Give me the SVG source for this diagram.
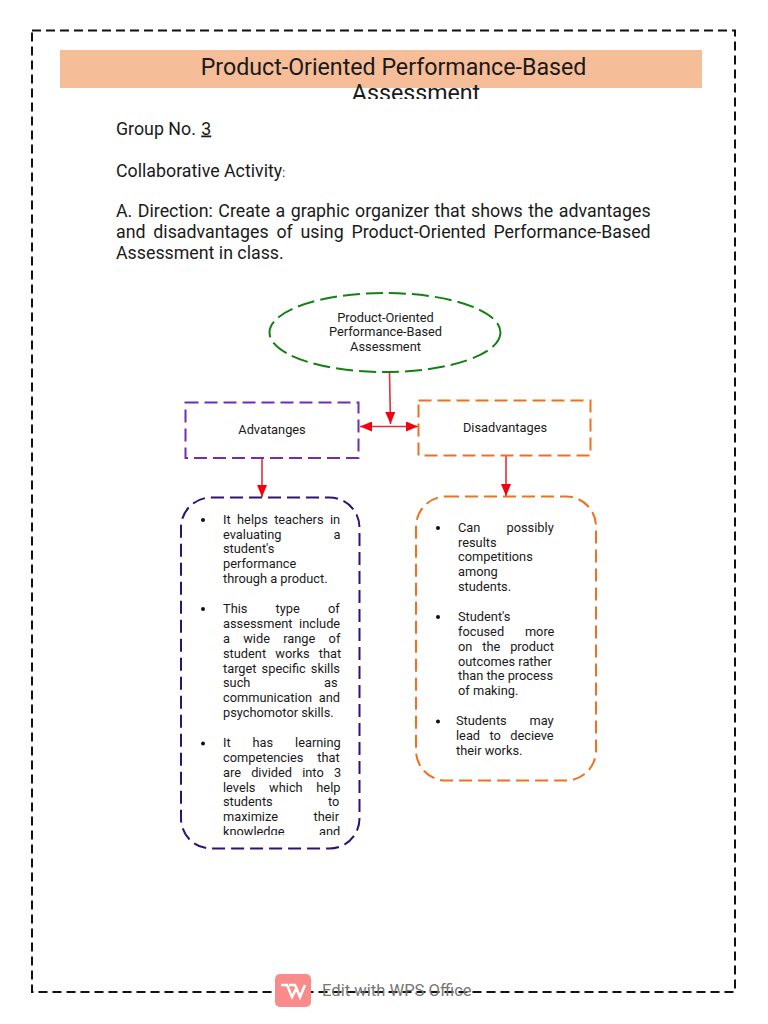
<svg xmlns="http://www.w3.org/2000/svg" width="768" height="1024" viewBox="0 0 768 1024">
<style>
text{font-family:Roboto,"Liberation Sans",sans-serif;fill:#1a1a1a}
.b{font-size:17.8px}
.s{font-size:12.8px}
.m{text-anchor:middle}
.d{fill:none;stroke-width:2;stroke-dasharray:13 6}
.c{fill:none;stroke:#e0303a;stroke-width:1.6}
</style>
<defs>
<clipPath id="t"><rect x="60" y="50" width="642" height="49"/></clipPath>
<clipPath id="k"><rect x="180" y="500" width="180" height="335"/></clipPath>
<marker id="a" viewBox="0 0 12 10" refX="12" refY="5" markerWidth="12" markerHeight="10" markerUnits="userSpaceOnUse" orient="auto-start-reverse"><path d="M0 0L12 5L0 10Z" fill="#f5000f"/></marker>
</defs>
<rect width="768" height="1024" fill="#fff"/>
<rect id="page-border" x="32" y="30.500" width="703" height="961.500" fill="none" stroke="#111" stroke-width="2" stroke-dasharray="9 5"/>
<g id="header">
<rect x="60" y="50" width="642" height="38" fill="#f5bd98"/>
<g clip-path="url(#t)">
<text x="393.500" y="74.500" class="m" font-size="23.200">Product-Oriented Performance-Based</text>
<text x="416" y="100.500" class="m" font-size="23.200">Assessment</text>
</g>
</g>
<g id="intro">
<text x="116" y="134.500" class="b">Group No. <tspan text-decoration="underline" dx="1">3</tspan></text>
<text x="116" y="176.500" class="b">Collaborative Activity<tspan font-size="12">:</tspan></text>
<text x="116" y="216.500" class="b" word-spacing="1.100">A. Direction: Create a graphic organizer that shows the advantages</text>
<text x="116" y="237.500" class="b" word-spacing="3.400">and disadvantages of using Product-Oriented Performance-Based</text>
<text x="116" y="258.500" class="b">Assessment in class.</text>
</g>
<g id="connectors">
<path class="c" d="M389.500 373L390.500 424" marker-end="url(#a)"/>
<path class="c" d="M360 426.500H418" marker-start="url(#a)" marker-end="url(#a)"/>
<path class="c" d="M262 458V497" marker-end="url(#a)"/>
<path class="c" d="M506 456V496" marker-end="url(#a)"/>
</g>
<g id="node-root">
<ellipse cx="385" cy="332.500" rx="115.500" ry="39.500" class="d" stroke="#148014" style="stroke-dasharray:17 6"/>
<text x="385.500" y="322" class="s m">Product-Oriented</text>
<text x="385.500" y="336" class="s m">Performance-Based</text>
<text x="385.500" y="351" class="s m">Assessment</text>
</g>
<g id="node-advantages">
<rect x="185.500" y="402.500" width="173" height="55.500" class="d" stroke="#6f2cb4"/>
<text x="272" y="434" class="s m">Advatanges</text>
</g>
<g id="node-disadvantages">
<rect x="418.500" y="400.500" width="172" height="55" class="d" stroke="#f07020"/>
<text x="505" y="432" class="s m">Disadvantages</text>
</g>
<g id="node-advantages-list">
<rect x="181" y="497.500" width="178.500" height="351" rx="30" class="d" stroke="#2e1470"/>
<g clip-path="url(#k)">
<circle cx="203" cy="520" r="2" fill="#111"/>
<circle cx="203" cy="609" r="2" fill="#111"/>
<circle cx="203" cy="743.500" r="2" fill="#111"/>
<text x="223" y="524" class="s" word-spacing="3.200">It helps teachers in</text>
<text x="223" y="539" class="s" word-spacing="49">evaluating a</text>
<text x="223" y="553" class="s">student's</text>
<text x="223" y="568" class="s">performance</text>
<text x="223" y="583" class="s">through a product.</text>
<text x="223" y="613" class="s" word-spacing="25">This type of</text>
<text x="223" y="628" class="s" word-spacing="3.500">assessment include</text>
<text x="223" y="643" class="s" word-spacing="10.100">a wide range of</text>
<text x="223" y="658" class="s" word-spacing="6">student works that</text>
<text x="223" y="673" class="s" word-spacing="1.900">target specific skills</text>
<text x="223" y="687" class="s" word-spacing="70.500">such as</text>
<text x="223" y="702" class="s" word-spacing="3.500">communication and</text>
<text x="223" y="717" class="s">psychomotor skills.</text>
<text x="223" y="747" class="s" word-spacing="18.700">It has learning</text>
<text x="223" y="762" class="s" word-spacing="10.700">competencies that</text>
<text x="223" y="777" class="s" word-spacing="7">are divided into 3</text>
<text x="223" y="792" class="s" word-spacing="10.500">levels which help</text>
<text x="223" y="806" class="s" word-spacing="52">students to</text>
<text x="223" y="821" class="s" word-spacing="32.400">maximize their</text>
<text x="223" y="836" class="s" word-spacing="31.300">knowledge and</text>
</g>
</g>
<g id="node-disadvantages-list">
<rect x="416" y="496.500" width="180" height="284" rx="30" class="d" stroke="#f07020"/>
<circle cx="438" cy="528" r="2" fill="#111"/>
<circle cx="438" cy="617" r="2" fill="#111"/>
<circle cx="438" cy="721.500" r="2" fill="#111"/>
<text x="458" y="532" class="s" word-spacing="23">Can possibly</text>
<text x="458" y="547" class="s">results</text>
<text x="458" y="561" class="s">competitions</text>
<text x="458" y="576" class="s">among</text>
<text x="458" y="591" class="s">students.</text>
<text x="458" y="621" class="s">Student's</text>
<text x="458" y="636" class="s" word-spacing="17.600">focused more</text>
<text x="458" y="651" class="s" word-spacing="6.700">on the product</text>
<text x="458" y="666" class="s">outcomes rather</text>
<text x="458" y="680" class="s">than the process</text>
<text x="458" y="695" class="s">of making.</text>
<text x="456" y="725" class="s" word-spacing="19.600">Students may</text>
<text x="456" y="740" class="s" word-spacing="6.200">lead to decieve</text>
<text x="456" y="755" class="s">their works.</text>
</g>
<g id="watermark">
<rect x="275" y="974" width="36" height="33" rx="5" fill="#f98b8b"/>
<path d="M281 985H287L292 997L297 987M289 985H295L300 997L305 985" fill="none" stroke="#fff" stroke-width="2.600"/>
<text x="322" y="996" font-size="16.600" style="fill:#777">Edit with WPS Office</text>
</g>
</svg>
